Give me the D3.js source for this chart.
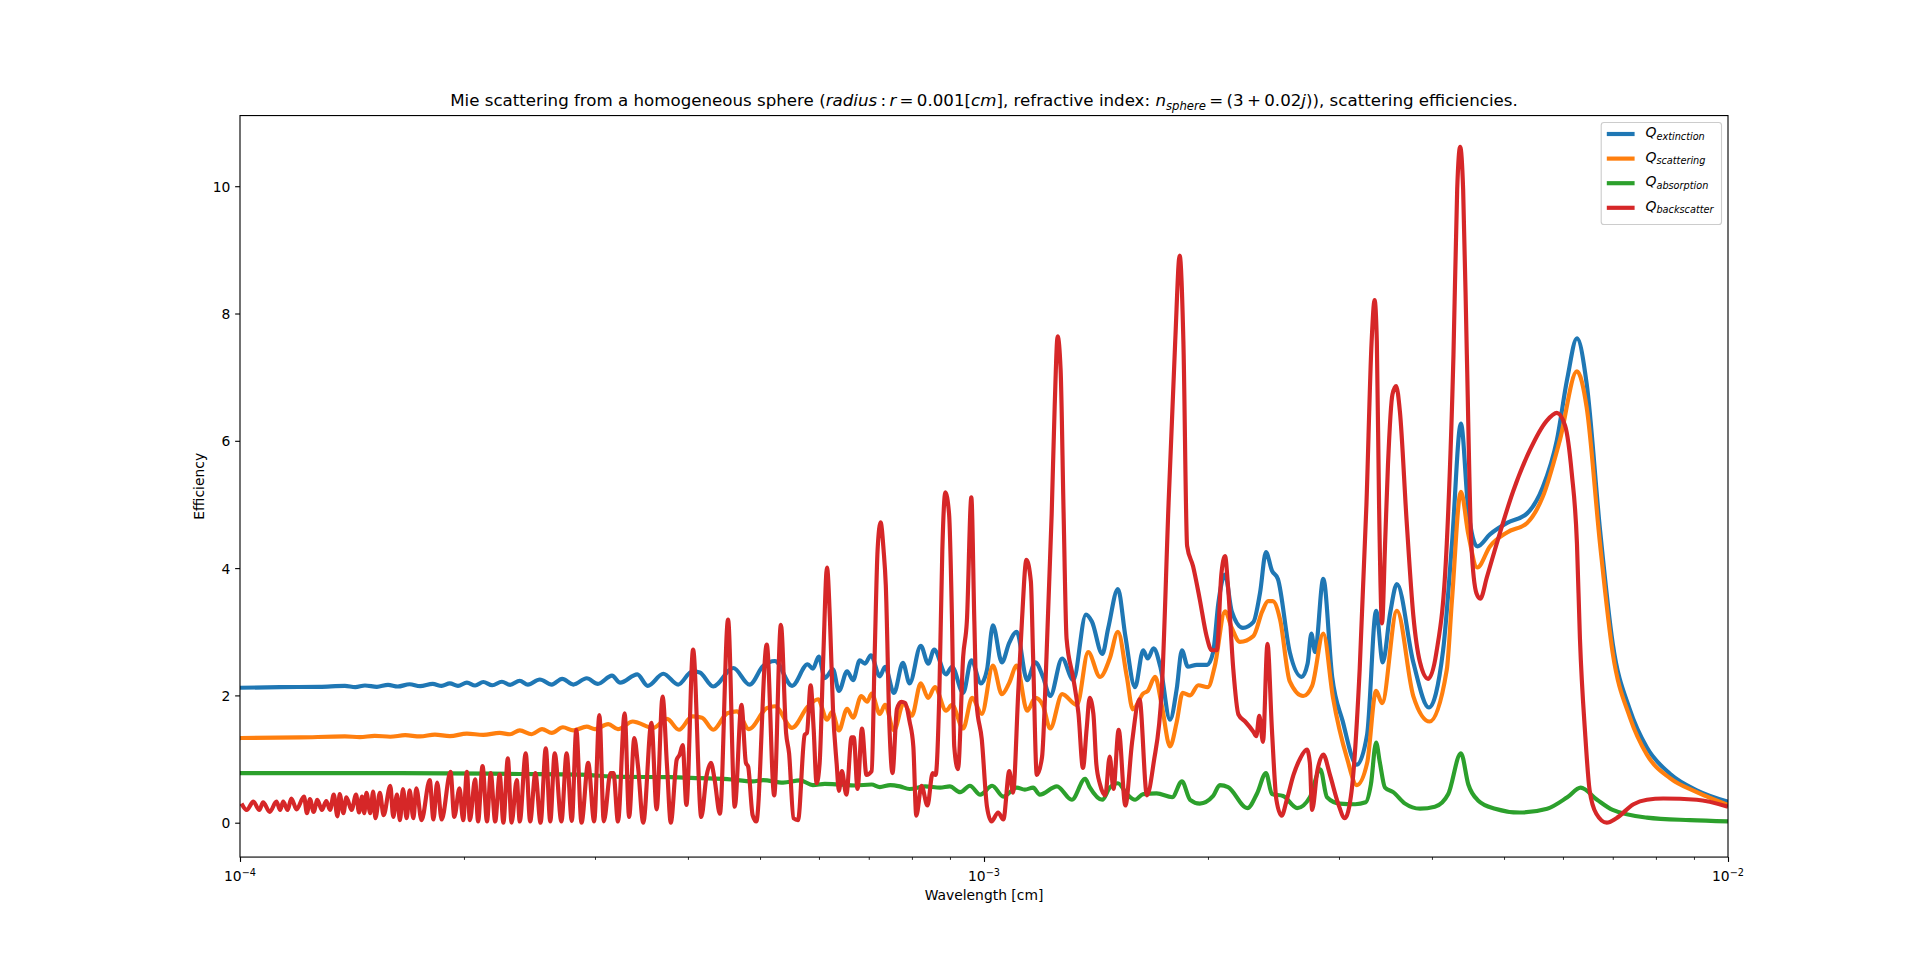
<!DOCTYPE html>
<html>
<head>
<meta charset="utf-8">
<script src="https://cdn.jsdelivr.net/npm/d3@7"></script>
<style>
  body { margin: 0; background: #fff; }
  svg text { font-family: "DejaVu Sans", sans-serif; white-space: pre; }
</style>
</head>
<body>
<svg id="chart"></svg>
<script>
// Values.
// Each point is [log10(wavelength / cm), efficiency].
const extinction = [
  [-4.000,2.12],[-3.946,2.13],[-3.893,2.135],[-3.859,2.15],[-3.845,2.13],[-3.832,2.155],[-3.816,2.135],[-3.801,2.165],
  [-3.788,2.14],[-3.772,2.175],[-3.758,2.145],[-3.741,2.18],[-3.729,2.15],[-3.718,2.19],[-3.707,2.15],[-3.695,2.20],
  [-3.684,2.155],[-3.673,2.21],[-3.661,2.16],[-3.648,2.215],[-3.637,2.165],[-3.624,2.23],[-3.613,2.17],[-3.597,2.25],
  [-3.581,2.17],[-3.567,2.26],[-3.552,2.17],[-3.534,2.27],[-3.519,2.18],[-3.500,2.31],[-3.489,2.20],[-3.466,2.33],
  [-3.452,2.15],[-3.431,2.34],[-3.411,2.17],[-3.392,2.38],[-3.382,2.36],[-3.364,2.14],[-3.337,2.43],[-3.315,2.17],
  [-3.297,2.46],[-3.281,2.54],[-3.258,2.15],[-3.237,2.49],[-3.230,2.42],[-3.222,2.61],[-3.214,2.27],[-3.203,2.41],
  [-3.195,2.07],[-3.184,2.38],[-3.176,2.24],[-3.167,2.55],[-3.160,2.50],[-3.152,2.63],[-3.140,2.30],[-3.133,2.45],
  [-3.121,2.04],[-3.109,2.51],[-3.100,2.19],[-3.085,2.78],[-3.075,2.50],[-3.067,2.72],[-3.051,2.33],[-3.043,2.45],
  [-3.028,2.04],[-3.017,2.55],[-3.004,2.19],[-2.996,2.40],[-2.988,3.10],[-2.976,2.52],[-2.966,2.83],[-2.956,3.00],
  [-2.942,2.24],[-2.931,2.52],[-2.921,2.30],[-2.911,1.99],[-2.895,2.58],[-2.880,2.24],[-2.863,3.27],[-2.855,3.16],
  [-2.841,2.65],[-2.833,3.06],[-2.820,3.67],[-2.810,2.93],[-2.797,2.13],[-2.786,2.71],[-2.780,2.58],[-2.772,2.74],
  [-2.763,2.45],[-2.750,1.62],[-2.741,2.10],[-2.734,2.71],[-2.726,2.45],[-2.714,2.48],[-2.700,2.48],[-2.692,2.68],
  [-2.685,3.45],[-2.676,3.90],[-2.667,3.32],[-2.652,3.06],[-2.638,3.15],[-2.629,3.61],[-2.621,4.25],[-2.613,3.96],
  [-2.605,3.83],[-2.589,2.68],[-2.573,2.29],[-2.565,2.50],[-2.560,2.97],[-2.555,2.68],[-2.544,3.83],[-2.532,2.29],
  [-2.518,1.60],[-2.499,0.91],[-2.485,1.39],[-2.473,3.33],[-2.464,2.52],[-2.454,3.30],[-2.445,3.75],[-2.423,2.52],
  [-2.402,1.81],[-2.383,2.70],[-2.371,4.38],[-2.359,6.27],[-2.349,4.90],[-2.337,4.34],[-2.320,4.53],[-2.297,4.71],
  [-2.270,4.86],[-2.249,5.27],[-2.230,6.01],[-2.216,6.98],[-2.203,7.61],[-2.190,6.90],[-2.172,4.60],[-2.155,2.82],
  [-2.132,1.78],[-2.109,1.18],[-2.078,0.77],[-2.042,0.51],[-2.000,0.33]
];

const scattering = [
  [-4.000,1.33],[-3.919,1.34],[-3.859,1.355],[-3.839,1.345],[-3.819,1.365],[-3.798,1.35],[-3.778,1.375],[-3.758,1.355],
  [-3.738,1.385],[-3.718,1.36],[-3.695,1.40],[-3.673,1.38],[-3.651,1.41],[-3.637,1.39],[-3.624,1.45],[-3.608,1.39],
  [-3.594,1.47],[-3.581,1.41],[-3.566,1.50],[-3.552,1.45],[-3.534,1.51],[-3.523,1.47],[-3.505,1.55],[-3.492,1.47],
  [-3.472,1.59],[-3.465,1.57],[-3.445,1.49],[-3.426,1.63],[-3.410,1.46],[-3.392,1.67],[-3.379,1.65],[-3.364,1.46],
  [-3.345,1.72],[-3.332,1.75],[-3.316,1.47],[-3.292,1.80],[-3.281,1.83],[-3.258,1.49],[-3.237,1.82],[-3.223,1.94],
  [-3.211,1.62],[-3.204,1.74],[-3.195,1.45],[-3.184,1.79],[-3.176,1.65],[-3.165,1.99],[-3.157,1.90],[-3.151,2.03],
  [-3.140,1.71],[-3.133,1.85],[-3.121,1.45],[-3.108,1.88],[-3.097,1.68],[-3.085,2.19],[-3.075,1.96],[-3.066,2.13],
  [-3.051,1.76],[-3.043,1.85],[-3.028,1.48],[-3.016,1.96],[-3.003,1.71],[-2.988,2.47],[-2.976,2.02],[-2.966,2.20],
  [-2.956,2.47],[-2.942,1.76],[-2.931,1.96],[-2.921,1.85],[-2.911,1.48],[-2.895,2.02],[-2.875,1.85],[-2.860,2.68],
  [-2.844,2.29],[-2.831,2.58],[-2.820,3.00],[-2.808,2.29],[-2.800,1.78],[-2.786,2.03],[-2.780,2.07],[-2.770,2.29],
  [-2.761,1.84],[-2.750,1.20],[-2.741,1.58],[-2.733,2.04],[-2.723,2.00],[-2.712,2.16],[-2.699,2.13],[-2.690,2.45],
  [-2.676,3.32],[-2.667,3.06],[-2.656,2.84],[-2.638,2.93],[-2.626,3.32],[-2.618,3.48],[-2.612,3.48],[-2.602,3.19],
  [-2.589,2.22],[-2.571,1.99],[-2.559,2.15],[-2.544,2.97],[-2.531,1.97],[-2.512,1.01],[-2.499,0.59],[-2.485,0.94],
  [-2.473,2.07],[-2.465,1.88],[-2.445,3.33],[-2.423,1.99],[-2.401,1.59],[-2.378,2.40],[-2.371,3.50],[-2.359,5.20],
  [-2.349,4.53],[-2.337,4.01],[-2.320,4.34],[-2.297,4.56],[-2.270,4.71],[-2.249,5.12],[-2.226,6.01],[-2.203,7.09],
  [-2.190,6.53],[-2.172,4.38],[-2.155,2.67],[-2.132,1.66],[-2.109,1.07],[-2.078,0.70],[-2.042,0.48],[-2.000,0.28]
];

const absorption = [
  [-4.000,0.78],[-3.785,0.78],[-3.624,0.765],[-3.543,0.755],[-3.489,0.72],[-3.422,0.715],[-3.382,0.70],[-3.345,0.685],
  [-3.311,0.65],[-3.297,0.67],[-3.270,0.63],[-3.247,0.665],[-3.230,0.59],[-3.214,0.61],[-3.194,0.60],[-3.173,0.585],
  [-3.151,0.60],[-3.140,0.56],[-3.126,0.59],[-3.113,0.57],[-3.100,0.53],[-3.079,0.57],[-3.059,0.55],[-3.046,0.57],
  [-3.032,0.48],[-3.019,0.58],[-3.005,0.44],[-2.989,0.58],[-2.974,0.41],[-2.956,0.55],[-2.945,0.52],[-2.934,0.55],
  [-2.925,0.44],[-2.902,0.57],[-2.882,0.36],[-2.864,0.69],[-2.858,0.56],[-2.841,0.36],[-2.831,0.55],[-2.820,0.62],
  [-2.808,0.45],[-2.797,0.36],[-2.786,0.45],[-2.768,0.46],[-2.747,0.40],[-2.734,0.65],[-2.723,0.36],[-2.710,0.30],
  [-2.692,0.42],[-2.683,0.59],[-2.672,0.56],[-2.646,0.23],[-2.633,0.46],[-2.621,0.78],[-2.613,0.45],[-2.598,0.42],
  [-2.579,0.23],[-2.562,0.40],[-2.548,0.84],[-2.539,0.40],[-2.522,0.30],[-2.501,0.29],[-2.487,0.32],[-2.480,0.60],
  [-2.473,1.26],[-2.468,0.95],[-2.461,0.55],[-2.450,0.48],[-2.434,0.30],[-2.414,0.22],[-2.394,0.25],[-2.376,0.45],
  [-2.359,1.09],[-2.349,0.60],[-2.336,0.35],[-2.313,0.22],[-2.280,0.16],[-2.243,0.22],[-2.216,0.40],[-2.198,0.55],
  [-2.176,0.36],[-2.155,0.20],[-2.109,0.08],[-2.051,0.04],[-2.000,0.02]
];

const backscatter = [
  [-3.998,0.30],[-3.991,0.20],[-3.982,0.33],[-3.974,0.20],[-3.969,0.32],[-3.960,0.17],[-3.951,0.33],[-3.946,0.20],
  [-3.942,0.33],[-3.936,0.20],[-3.931,0.38],[-3.924,0.21],[-3.914,0.41],[-3.910,0.15],[-3.906,0.37],[-3.901,0.17],
  [-3.896,0.36],[-3.890,0.20],[-3.884,0.34],[-3.879,0.20],[-3.874,0.44],[-3.869,0.10],[-3.866,0.45],[-3.861,0.15],
  [-3.857,0.40],[-3.850,0.20],[-3.844,0.44],[-3.840,0.16],[-3.836,0.41],[-3.833,0.15],[-3.830,0.47],[-3.825,0.15],
  [-3.821,0.49],[-3.818,0.07],[-3.812,0.47],[-3.807,0.12],[-3.798,0.58],[-3.794,0.09],[-3.789,0.44],[-3.785,0.04],
  [-3.781,0.53],[-3.776,0.07],[-3.772,0.51],[-3.767,0.07],[-3.763,0.54],[-3.756,0.04],[-3.745,0.67],[-3.740,0.05],
  [-3.735,0.63],[-3.729,0.05],[-3.717,0.80],[-3.712,0.09],[-3.705,0.54],[-3.700,0.04],[-3.695,0.80],[-3.691,0.04],
  [-3.684,0.68],[-3.680,0.02],[-3.674,0.89],[-3.668,0.02],[-3.663,0.78],[-3.657,0.02],[-3.651,0.76],[-3.646,0.00],
  [-3.640,1.01],[-3.635,0.00],[-3.628,0.67],[-3.624,0.02],[-3.616,1.09],[-3.610,0.02],[-3.603,0.78],[-3.596,0.00],
  [-3.589,1.17],[-3.583,0.02],[-3.577,1.09],[-3.568,0.02],[-3.561,1.09],[-3.554,0.03],[-3.548,1.46],[-3.541,0.00],
  [-3.532,0.94],[-3.524,0.02],[-3.517,1.69],[-3.511,0.02],[-3.502,0.78],[-3.498,0.78],[-3.492,0.02],[-3.483,1.72],
  [-3.477,0.09],[-3.470,1.33],[-3.465,0.88],[-3.458,0.00],[-3.447,1.57],[-3.440,0.21],[-3.432,1.98],[-3.426,0.88],
  [-3.421,0.00],[-3.413,0.99],[-3.409,1.07],[-3.405,1.22],[-3.400,0.28],[-3.391,2.72],[-3.380,0.09],[-3.373,0.73],
  [-3.367,0.94],[-3.362,0.67],[-3.355,0.14],[-3.344,3.19],[-3.335,0.25],[-3.326,1.85],[-3.320,0.94],[-3.317,0.88],
  [-3.311,0.12],[-3.306,0.02],[-3.292,2.80],[-3.282,0.43],[-3.273,3.11],[-3.266,1.41],[-3.262,1.09],[-3.256,0.07],
  [-3.250,0.04],[-3.241,1.38],[-3.238,1.41],[-3.233,2.16],[-3.229,1.48],[-3.225,0.62],[-3.221,0.92],[-3.216,2.61],
  [-3.211,4.01],[-3.207,3.17],[-3.203,1.79],[-3.198,0.92],[-3.195,0.50],[-3.191,0.81],[-3.185,0.44],[-3.178,1.34],
  [-3.175,1.34],[-3.170,0.53],[-3.164,1.48],[-3.158,0.75],[-3.151,0.81],[-3.147,2.61],[-3.143,4.29],[-3.139,4.72],
  [-3.135,4.29],[-3.132,3.73],[-3.127,1.48],[-3.123,0.78],[-3.117,1.79],[-3.111,1.90],[-3.106,1.88],[-3.100,1.59],
  [-3.095,1.20],[-3.091,0.11],[-3.084,0.58],[-3.076,0.27],[-3.069,0.78],[-3.065,0.75],[-3.060,2.04],[-3.056,4.29],
  [-3.052,5.19],[-3.047,4.86],[-3.043,3.17],[-3.040,1.20],[-3.035,0.84],[-3.028,2.61],[-3.023,3.17],[-3.017,5.11],
  [-3.013,3.17],[-3.010,1.88],[-3.003,1.31],[-2.996,0.25],[-2.990,0.02],[-2.981,0.16],[-2.974,0.05],[-2.966,0.81],
  [-2.961,0.47],[-2.954,2.04],[-2.949,3.17],[-2.943,4.13],[-2.937,3.79],[-2.934,2.61],[-2.929,0.75],[-2.922,1.03],
  [-2.916,2.61],[-2.909,4.86],[-2.905,6.54],[-2.901,7.64],[-2.897,7.11],[-2.893,4.86],[-2.889,2.89],[-2.880,2.27],
  [-2.873,1.71],[-2.867,0.86],[-2.862,1.48],[-2.858,1.96],[-2.853,1.71],[-2.849,0.92],[-2.844,0.60],[-2.837,0.43],
  [-2.831,1.04],[-2.826,0.53],[-2.819,1.46],[-2.810,0.27],[-2.801,1.26],[-2.791,1.94],[-2.781,0.43],[-2.772,0.94],
  [-2.761,2.10],[-2.752,4.99],[-2.743,7.56],[-2.737,8.91],[-2.732,7.56],[-2.727,4.35],[-2.719,4.03],[-2.710,3.51],
  [-2.701,2.94],[-2.694,2.71],[-2.687,2.71],[-2.681,3.90],[-2.676,4.19],[-2.672,3.71],[-2.665,2.42],[-2.658,1.70],
  [-2.649,1.59],[-2.638,1.43],[-2.634,1.36],[-2.630,1.68],[-2.625,1.27],[-2.619,2.81],[-2.613,1.46],[-2.607,0.36],
  [-2.600,0.11],[-2.593,0.36],[-2.584,0.75],[-2.575,1.01],[-2.566,1.15],[-2.562,0.94],[-2.559,0.20],[-2.552,0.81],
  [-2.544,1.07],[-2.535,0.75],[-2.524,0.30],[-2.515,0.07],[-2.506,0.49],[-2.495,2.42],[-2.486,4.99],[-2.479,7.56],
  [-2.475,8.21],[-2.472,7.56],[-2.469,4.99],[-2.465,3.13],[-2.461,4.35],[-2.457,5.63],[-2.451,6.73],[-2.446,6.86],
  [-2.441,6.46],[-2.432,4.75],[-2.423,3.26],[-2.414,2.52],[-2.403,2.26],[-2.392,2.67],[-2.378,4.38],[-2.369,7.35],
  [-2.364,9.95],[-2.360,10.62],[-2.356,9.95],[-2.351,7.35],[-2.345,4.38],[-2.338,3.60],[-2.333,3.52],[-2.324,3.86],
  [-2.311,4.38],[-2.289,5.20],[-2.266,5.86],[-2.244,6.31],[-2.230,6.44],[-2.219,6.24],[-2.210,5.49],[-2.203,4.38],
  [-2.199,2.89],[-2.192,1.40],[-2.186,0.51],[-2.177,0.14],[-2.163,0.00],[-2.150,0.07],[-2.127,0.29],[-2.109,0.36],
  [-2.087,0.38],[-2.042,0.36],[-2.000,0.25]
];

const seriesNames = ["extinction", "scattering", "absorption", "backscatter"];
const yTicks = [0, 2, 4, 6, 8, 10];
const xMajorTicks = [1e-4, 1e-3, 1e-2];
const xTickExponents = ["\u22124", "\u22123", "\u22122"];

// Figure setup (matplotlib-like default layout)
const W = 1920, H = 963;
const margin = { top: 115.56, right: 192, bottom: 105.93, left: 240 };
const colors = ["#1f77b4", "#ff7f0e", "#2ca02c", "#d62728"];
const fs = 13.89; // 10pt

const svg = d3.select("#chart").attr("width", W).attr("height", H);
svg.append("rect").attr("width", W).attr("height", H).attr("fill", "#fff");

const x = d3.scaleLog().domain([1e-4, 1e-2]).range([margin.left, W - margin.right]);
const y = d3.scaleLinear().domain([-0.54, 11.11]).range([H - margin.bottom, margin.top]);

svg.append("clipPath").attr("id", "plot-area")
  .append("rect")
  .attr("x", margin.left).attr("y", margin.top)
  .attr("width", W - margin.left - margin.right)
  .attr("height", H - margin.top - margin.bottom);

// Lines
const line = d3.line()
  .x(d => x(Math.pow(10, d[0])))
  .y(d => y(d[1]))
  .curve(d3.curveMonotoneX);

const series = [extinction, scattering, absorption, backscatter];
svg.append("g").attr("clip-path", "url(#plot-area)")
  .selectAll("path")
  .data(series)
  .enter()
  .append("path")
  .attr("d", d => line(d))
  .attr("fill", "none")
  .attr("stroke", (d, i) => colors[i])
  .attr("stroke-width", 4.17)
  .attr("stroke-linejoin", "round");

// Y axis
const yAxis = svg.append("g")
  .attr("transform", `translate(${margin.left},0)`)
  .call(d3.axisLeft(y).tickValues(yTicks).tickSize(4.86).tickPadding(4.86).tickFormat(d3.format("d")));
yAxis.select(".domain").remove();
yAxis.selectAll("line").attr("stroke", "#000").attr("stroke-width", 1.11);
yAxis.selectAll("text").style("font-size", fs + "px").attr("fill", "#000").attr("dy", "0.36em");

// X axis: minor ticks, then major ticks with 10^k labels
const xBase = H - margin.bottom;
const minorTicks = x.ticks().filter(v => !xMajorTicks.some(m => Math.abs(m - v) / m < 1e-6));
const xMinor = svg.append("g")
  .attr("transform", `translate(0,${xBase})`)
  .call(d3.axisBottom(x).tickValues(minorTicks).tickSize(2.78).tickFormat(""));
xMinor.select(".domain").remove();
xMinor.selectAll("line").attr("stroke", "#000").attr("stroke-width", 0.83);

const xMajor = svg.append("g")
  .attr("transform", `translate(0,${xBase})`)
  .call(d3.axisBottom(x).tickValues(xMajorTicks).tickSize(4.86).tickFormat(""));
xMajor.select(".domain").remove();
xMajor.selectAll("line").attr("stroke", "#000").attr("stroke-width", 1.11);

xMajorTicks.forEach((v, i) => {
  const t = svg.append("text")
    .attr("x", x(v)).attr("y", xBase + 23.5)
    .attr("text-anchor", "middle")
    .style("font-size", fs + "px");
  t.append("tspan").text("10");
  t.append("tspan").attr("dy", -5).style("font-size", (fs * 0.7) + "px").text(xTickExponents[i]);
});

// Frame
svg.append("rect")
  .attr("x", margin.left).attr("y", margin.top)
  .attr("width", W - margin.left - margin.right)
  .attr("height", H - margin.top - margin.bottom)
  .attr("fill", "none").attr("stroke", "#000").attr("stroke-width", 1.11);

// Axis labels
svg.append("text")
  .attr("x", (margin.left + W - margin.right) / 2).attr("y", 900)
  .attr("text-anchor", "middle").style("font-size", fs + "px")
  .text("Wavelength [cm]");

svg.append("text")
  .attr("transform", `translate(204,${(margin.top + H - margin.bottom) / 2}) rotate(-90)`)
  .attr("text-anchor", "middle").style("font-size", fs + "px")
  .text("Efficiency");

// Title with math-style parts: 0 = roman, 1 = italic, 2 = italic subscript
// (thin spaces inside the math parts, like mathtext spacing)
const ts = "\u2009";
const titleParts = [
  ["Mie scattering from a homogeneous sphere (", 0], ["radius", 1], [ts + ":" + ts, 0], ["r", 1],
  [ts + "=" + ts + "0.001[", 0], ["cm", 1], ["], refractive index: ", 0], ["n", 1], ["sphere", 2],
  [ts + "=" + ts + "(3" + ts + "+" + ts + "0.02", 0], ["j", 1], [")), scattering efficiencies.", 0]
];
const title = svg.append("text")
  .attr("x", (margin.left + W - margin.right) / 2).attr("y", 106)
  .attr("text-anchor", "middle").style("font-size", "16.67px");
let shift = 0;
titleParts.forEach(([txt, kind]) => {
  const s = title.append("tspan").text(txt);
  const target = kind === 2 ? 3.5 : 0;
  if (target !== shift) { s.attr("dy", target - shift); shift = target; }
  if (kind >= 1) s.style("font-style", "italic");
  if (kind === 2) s.style("font-size", "11.67px");
});

// Legend
const legend = svg.append("g");
legend.append("rect")
  .attr("x", 1601.2).attr("y", 122.5).attr("width", 120.3).attr("height", 102)
  .attr("rx", 2.8)
  .attr("fill", "#fff").attr("fill-opacity", 0.8)
  .attr("stroke", "#cccccc").attr("stroke-width", 1.11);

seriesNames.forEach((name, i) => {
  const ly = 134 + i * 24.6;
  legend.append("line")
    .attr("x1", 1606.8).attr("x2", 1634.6).attr("y1", ly).attr("y2", ly)
    .attr("stroke", colors[i]).attr("stroke-width", 4.17);
  const t = legend.append("text")
    .attr("x", 1645.5).attr("y", ly + 3)
    .style("font-size", fs + "px").style("font-style", "italic");
  t.append("tspan").text("Q");
  t.append("tspan").attr("dy", 2.6).style("font-size", (fs * 0.7) + "px").text(name);
});
</script>
</body>
</html>
